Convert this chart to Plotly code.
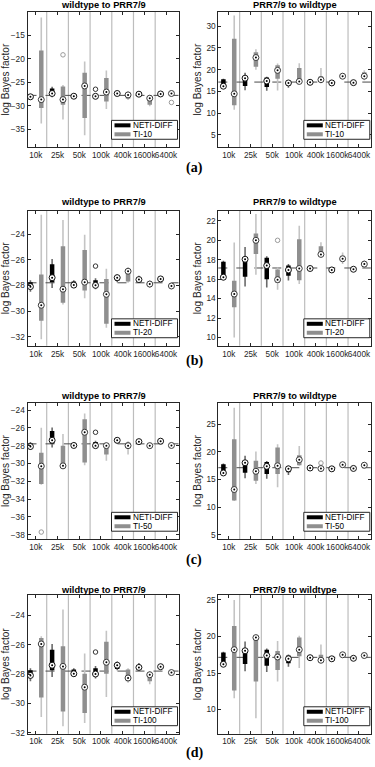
import plotly.graph_objects as go

W, H = 375, 767

# ---------------- data ----------------
sizes = ["10k", "25k", "50k", "100k", "400k", "1600k", "6400k"]
titles = ["wildtype to PRR7/9", "PRR7/9 to wildtype"]
ti_names = ["TI-10", "TI-20", "TI-50", "TI-100"]
panel_tags = ["(a)", "(b)", "(c)", "(d)"]
ref_value = [-27.8, 17.15]          # dashed reference line (left, right)

# each row: [lower whisker, q1, median, q3, upper whisker]
neti_left = [
    [-28.5, -28.2, -28.1, -27.75, -27.6],
    [-28.2, -27.75, -27.4, -26.35, -25.95],
    [-28.2, -28.05, -27.98, -27.7, -27.6],
    [-28.3, -28.05, -28.0, -27.6, -27.45],
    [-27.75, -27.65, -27.4, -27.3, -27.15],
    [-27.8, -27.7, -27.55, -27.45, -27.25],
    [-27.6, -27.55, -27.5, -27.42, -27.35],
]
neti_left_out = [[], [], [], [-26.5], [], [], []]

neti_right = [
    [15.9, 15.95, 16.2, 17.8, 17.9],
    [15.25, 16.25, 18.05, 18.2, 19.3],
    [15.15, 16.0, 17.4, 18.2, 18.35],
    [15.85, 16.35, 16.95, 17.4, 17.55],
    [16.95, 17.0, 17.1, 17.2, 17.3],
    [16.85, 16.9, 16.95, 17.05, 17.1],
    [16.95, 16.98, 17.02, 17.08, 17.15],
]
neti_right_out = [[], [], [], [], [], [], []]

ti10_left = [
    [-33.75, -30.5, -28.7, -18.3, -11.3],
    [-32.9, -29.8, -28.7, -25.9, -25.6],
    [-36.25, -32.6, -25.8, -23.0, -20.6],
    [-30.7, -29.1, -27.1, -24.1, -22.5],
    [-28.8, -28.5, -27.7, -27.4, -27.0],
    [-30.1, -29.8, -28.4, -28.0, -27.7],
    [-28.0, -27.9, -27.4, -27.1, -27.0],
]
ti10_left_out = [[], [-19.2], [], [], [], [], [-29.3]]
ti10_right = [
    [10.8, 11.8, 14.45, 27.15, 32.5],
    [20.0, 20.7, 22.8, 24.0, 24.7],
    [15.2, 17.9, 19.85, 21.0, 21.4],
    [16.8, 17.15, 17.3, 20.4, 21.5],
    [16.9, 17.15, 17.7, 18.5, 20.4],
    [17.9, 18.1, 18.5, 19.0, 19.1],
    [17.55, 17.9, 18.5, 19.4, 19.85],
]
ti10_right_out = [[], [], [], [], [], [], []]

ti20_left = [
    [-32.2, -30.75, -29.55, -27.15, -22.5],
    [-29.5, -29.35, -28.3, -24.95, -22.9],
    [-29.0, -28.4, -27.75, -25.25, -24.05],
    [-31.3, -31.0, -28.7, -27.5, -26.7],
    [-27.8, -27.7, -26.9, -26.85, -26.6],
    [-28.2, -28.0, -27.9, -27.7, -27.6],
    [-28.3, -28.2, -28.05, -27.85, -27.75],
]
ti20_left_out = [[], [], [], [], [], [], []]
ti20_right = [
    [10.0, 13.1, 14.47, 15.84, 19.77],
    [16.45, 18.6, 20.0, 20.7, 22.7],
    [14.9, 15.6, 15.95, 17.0, 17.2],
    [15.5, 15.9, 17.1, 20.1, 21.5],
    [18.4, 18.5, 18.55, 19.4, 19.8],
    [17.55, 17.9, 18.1, 18.4, 18.75],
    [17.2, 17.35, 17.55, 17.8, 17.95],
]
ti20_right_out = [[], [], [20.0], [], [], [], []]

ti50_left = [
    [-32.4, -32.3, -30.3, -28.8, -26.0],
    [-30.45, -30.35, -30.27, -28.0, -26.7],
    [-30.2, -29.9, -26.5, -25.05, -24.4],
    [-29.7, -29.0, -28.0, -27.85, -27.7],
    [-29.0, -28.3, -28.0, -27.65, -27.5],
    [-28.3, -28.2, -28.0, -27.8, -27.7],
    [-28.2, -28.1, -27.98, -27.88, -27.8],
]
ti50_left_out = [[-37.7], [], [], [], [], [], []]
ti50_right = [
    [11.1, 11.2, 13.2, 22.3, 28.0],
    [14.2, 14.8, 16.5, 18.4, 20.1],
    [13.6, 16.0, 17.5, 20.8, 21.4],
    [17.5, 17.6, 18.6, 19.4, 21.1],
    [16.8, 16.9, 17.0, 17.1, 17.2],
    [17.2, 17.3, 17.7, 17.9, 18.0],
    [17.4, 17.5, 17.6, 17.7, 17.8],
]
ti50_right_out = [[], [], [], [], [18.0], [], []]

ti100_left = [
    [-30.93, -29.6, -25.95, -25.55, -25.43],
    [-31.57, -30.55, -27.48, -26.1, -23.6],
    [-31.34, -30.66, -28.9, -27.98, -26.6],
    [-29.57, -27.98, -27.2, -25.8, -25.05],
    [-28.6, -28.5, -28.27, -27.7, -27.6],
    [-28.7, -28.5, -28.05, -27.93, -27.8],
    [-28.0, -27.95, -27.9, -27.85, -27.8],
]
ti100_left_out = [[], [], [], [], [], [], []]
ti100_right = [
    [11.55, 12.6, 18.2, 21.45, 25.0],
    [8.8, 13.85, 19.85, 19.9, 20.1],
    [13.85, 15.4, 17.2, 18.0, 19.4],
    [15.7, 17.3, 18.2, 19.85, 20.1],
    [16.4, 16.6, 16.75, 17.5, 18.9],
    [17.3, 17.4, 17.5, 17.6, 17.7],
    [17.25, 17.3, 17.4, 17.45, 17.5],
]
ti100_right_out = [[], [], [], [], [], [], []]

ti_left = [ti10_left, ti20_left, ti50_left, ti100_left]
ti_left_out = [ti10_left_out, ti20_left_out, ti50_left_out, ti100_left_out]
ti_right = [ti10_right, ti20_right, ti50_right, ti100_right]
ti_right_out = [ti10_right_out, ti20_right_out, ti50_right_out, ti100_right_out]

# ---------------- layout geometry (pixels) ----------------
col_x = [(27.5, 178.5), (218.3, 370.8)]
row_y = [(12, 148), (212, 347.5), (405, 542), (598, 737.5)]
x_ranges = [[-0.27, 13.65], [-0.47, 13.6]]
y_ranges = [
    [[-38.8, -10.1], [2.15, 33.3]],
    [[-32.7, -22.2], [9.15, 23.03]],
    [[-38.5, -23.2], [4.2, 28.9]],
    [[-32.07, -22.6], [6.7, 25.7]],
]
y_dticks = [[5, 5], [2, 2], [2, 5], [2, 5]]
title_y = [5.5, 203, 398, 593.5]
tag_y = [169, 363, 563, 757]

NETI_BOX, NETI_WHISK, NETI_EDGE = "#000000", "#6a6a6a", "#111111"
TI_BOX, TI_WHISK, TI_EDGE = "#8f8f8f", "#c4c4c4", "#3a3a3a"
FONT = "Liberation Sans, Arial, sans-serif"
AXC = "#262626"

def px(x):
    return x / W

def py(y):
    return 1 - y / H

fig = go.Figure()
shapes = []
annotations = []


def add_boxes(ax, stats, outs, offset, box_c, whisk_c, edge_c, out_c):
    xs = "x" if ax == 1 else f"x{ax}"
    ys = "y" if ax == 1 else f"y{ax}"
    pos = [2 * g + offset for g in range(len(stats))]
    wx, wy, bx, by = [], [], [], []
    for p, s in zip(pos, stats):
        wx += [p, p, None]
        wy += [s[0], s[4], None]
        bx += [p, p, None]
        by += [s[1], s[3], None]
    fig.add_trace(go.Scatter(x=wx, y=wy, mode="lines", xaxis=xs, yaxis=ys,
                             line=dict(color=whisk_c, width=1.6), showlegend=False,
                             hoverinfo="skip"))
    fig.add_trace(go.Scatter(x=bx, y=by, mode="lines", xaxis=xs, yaxis=ys,
                             line=dict(color=box_c, width=4.5), showlegend=False,
                             hoverinfo="skip"))
    ox, oy = [], []
    for p, o in zip(pos, outs):
        for v in o:
            ox.append(p)
            oy.append(v)
    if ox:
        fig.add_trace(go.Scatter(x=ox, y=oy, mode="markers", xaxis=xs, yaxis=ys,
                                 marker=dict(symbol="circle-open", size=4.5, color=out_c,
                                             line=dict(width=1)),
                                 showlegend=False))
    fig.add_trace(go.Scatter(x=pos, y=[s[2] for s in stats], mode="markers",
                             xaxis=xs, yaxis=ys,
                             marker=dict(symbol="circle", size=6, color="white",
                                         line=dict(color=edge_c, width=1)),
                             showlegend=False))
    fig.add_trace(go.Scatter(x=pos, y=[s[2] for s in stats], mode="markers",
                             xaxis=xs, yaxis=ys,
                             marker=dict(symbol="circle", size=2, color="black"),
                             showlegend=False))


layout_axes = {}
for r in range(4):
    for c in range(2):
        ax = r * 2 + c + 1
        xk = "xaxis" if ax == 1 else f"xaxis{ax}"
        yk = "yaxis" if ax == 1 else f"yaxis{ax}"
        xs = "x" if ax == 1 else f"x{ax}"
        ys = "y" if ax == 1 else f"y{ax}"
        x0, x1 = col_x[c]
        y0, y1 = row_y[r]
        layout_axes[xk] = dict(
            domain=[px(x0), px(x1)], range=x_ranges[c], anchor=ys,
            tickvals=[2 * g + 0.5 for g in range(len(sizes))], ticktext=sizes,
            tickangle=0,
            ticks="inside", ticklen=3, tickcolor=AXC, mirror="ticks",
            showline=True, linecolor=AXC, linewidth=1, showgrid=False,
            zeroline=False, tickfont=dict(size=8.2, color=AXC, family=FONT),
        )
        yr = y_ranges[r][c]
        layout_axes[yk] = dict(
            domain=[py(y1), py(y0)], range=yr, anchor=xs,
            dtick=y_dticks[r][c], tick0=0,
            ticks="inside", ticklen=3, tickcolor=AXC, mirror="ticks",
            showline=True, linecolor=AXC, linewidth=1, showgrid=False,
            zeroline=False, tickfont=dict(size=8.3, color=AXC, family=FONT),
            title=dict(text="log Bayes factor", font=dict(size=10, color=AXC, family=FONT),
                       standoff=2),
        )
        # separators between sample-size groups
        for g in range(len(sizes) - 1):
            shapes.append(dict(type="line", xref=xs, yref=f"{ys} domain",
                               x0=2 * g + 1.5, x1=2 * g + 1.5, y0=0, y1=1,
                               line=dict(color="#bdbdbd", width=1.2), layer="below"))
        # reference dashed line
        shapes.append(dict(type="line", xref=f"{xs} domain", yref=ys, x0=0, x1=1,
                           y0=ref_value[c], y1=ref_value[c],
                           line=dict(color="#4a4a4a", width=1, dash="dash"),
                           layer="below"))
        # boxes
        if c == 0:
            add_boxes(ax, neti_left, neti_left_out, 0, NETI_BOX, NETI_WHISK, NETI_EDGE, "#333333")
            add_boxes(ax, ti_left[r], ti_left_out[r], 1, TI_BOX, TI_WHISK, TI_EDGE, "#9a9a9a")
        else:
            add_boxes(ax, neti_right, neti_right_out, 0, NETI_BOX, NETI_WHISK, NETI_EDGE, "#333333")
            add_boxes(ax, ti_right[r], ti_right_out[r], 1, TI_BOX, TI_WHISK, TI_EDGE, "#9a9a9a")
        # subplot title
        annotations.append(dict(text=f"<b>{titles[c]}</b>", xref="paper", yref="paper",
                                x=px((x0 + x1) / 2), y=py(title_y[r]), showarrow=False,
                                xanchor="center", yanchor="middle",
                                font=dict(size=9.3, color="black", family=FONT)))
        # legend box (bottom-right, inside axes)
        lr = x1 - 1
        ll = lr - 66
        lb = y1 - 8
        lt = lb - 19
        shapes.append(dict(type="rect", xref="paper", yref="paper",
                           x0=px(ll), x1=px(lr), y0=py(lb), y1=py(lt),
                           fillcolor="white", line=dict(color=AXC, width=1), layer="above"))
        for k, (name, colr) in enumerate([("NETI-DIFF", NETI_BOX), (ti_names[r], TI_BOX)]):
            yy = lt + 5 + 9 * k
            shapes.append(dict(type="line", xref="paper", yref="paper",
                               x0=px(ll + 3), x1=px(ll + 19), y0=py(yy), y1=py(yy),
                               line=dict(color=colr, width=4), layer="above"))
            annotations.append(dict(text=name, xref="paper", yref="paper",
                                    x=px(ll + 19), y=py(yy), showarrow=False,
                                    xanchor="left", yanchor="middle",
                                    font=dict(size=8.2, color="black", family=FONT)))
    annotations.append(dict(text=f"<b>{panel_tags[r]}</b>", xref="paper", yref="paper",
                            x=px(194), y=py(tag_y[r]), showarrow=False,
                            xanchor="center", yanchor="middle",
                            font=dict(size=14, color="black",
                                      family="Liberation Serif, Times New Roman, serif")))

fig.update_layout(
    width=W, height=H, margin=dict(l=0, r=0, t=0, b=0),
    paper_bgcolor="white", plot_bgcolor="white",
    showlegend=False, shapes=shapes, annotations=annotations,
    **layout_axes,
)

fig.write_html(
    "out.html",
    config={"displayModeBar": False},
    post_script="document.body.style.margin='0';document.body.style.overflow='hidden';",
)
